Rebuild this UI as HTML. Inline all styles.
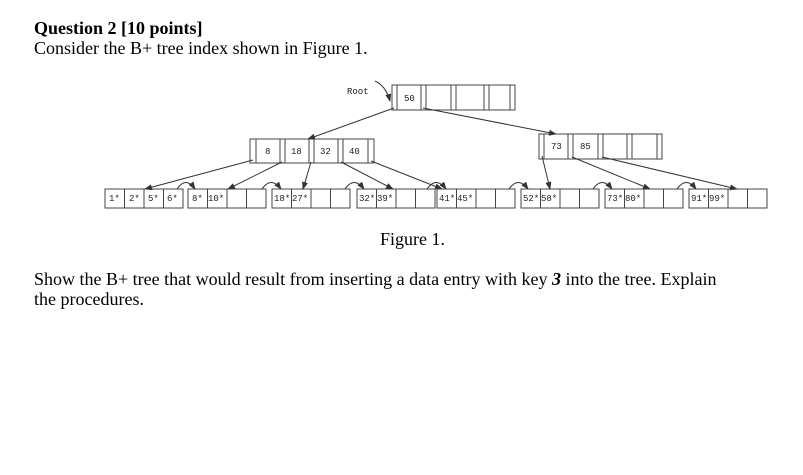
<!DOCTYPE html>
<html><head><meta charset="utf-8"><style>
html,body{margin:0;padding:0;background:#fff;width:803px;height:475px;overflow:hidden}
svg{position:absolute;left:0;top:0}
.t{font-family:"Liberation Serif",serif;font-size:18px;fill:#000}
.m{font-family:"Liberation Mono",monospace;font-size:9px;fill:#222}
</style></head><body>
<svg width="803" height="475" viewBox="0 0 803 475">
<defs><marker id="a" markerWidth="8" markerHeight="6" refX="7" refY="3" orient="auto" markerUnits="userSpaceOnUse"><path d="M0,0 L8,3 L0,6 z" fill="#333"/></marker></defs>
<text class="t" x="34" y="34" font-weight="bold">Question 2 [10 points]</text>
<text class="t" x="34" y="54">Consider the B+ tree index shown in Figure 1.</text>
<text class="t" x="380" y="245">Figure 1.</text>
<text class="t" x="34" y="285">Show the B+ tree that would result from inserting a data entry with key <tspan font-weight="bold" font-style="italic">3</tspan> into the tree. Explain</text>
<text class="t" x="34" y="305">the procedures.</text>

<g stroke="#444" fill="none" stroke-width="1">
<rect x="392" y="85" width="123" height="25"/>
<path d="M397,85V110M421,85V110M426,85V110M451,85V110M456,85V110M484,85V110M489,85V110M510,85V110"/>
<rect x="250" y="139" width="124" height="24"/>
<path d="M256,139V163M280,139V163M285,139V163M309,139V163M314,139V163M338,139V163M343,139V163M368,139V163"/>
<rect x="539" y="134" width="123" height="25"/>
<path d="M544,134V159M568,134V159M573,134V159M598,134V159M603,134V159M627,134V159M632,134V159M657,134V159"/>
<g id="lf"><rect x="105" y="189" width="78" height="19"/><path d="M124.5,189V208M144,189V208M163.5,189V208"/></g>
<use href="#lf" x="83"/><use href="#lf" x="167"/><use href="#lf" x="252"/>
<use href="#lf" x="332"/><use href="#lf" x="416"/><use href="#lf" x="500"/><use href="#lf" x="584"/>
</g>

<g stroke="#333" fill="none" stroke-width="1" marker-end="url(#a)">
<path d="M375,81 Q386,86 390,101"/>
<path d="M394,108 L308,139"/>
<path d="M423,108 L556,134"/>
<path d="M253,160 L145,189"/>
<path d="M282,162 L228,189"/>
<path d="M311,162 L303,189"/>
<path d="M341,162 L393,189"/>
<path d="M371,161 L442,189"/>
<path d="M542,156 L550,189"/>
<path d="M572,157 L650,189"/>
<path d="M602,157 L737,189"/>
</g>
<g stroke="#333" fill="none" stroke-width="1" marker-end="url(#a)">
<path d="M177,189 Q186,176 195,189"/>
<path d="M262,189 Q271,176 281,189"/>
<path d="M345,189 Q354,176 364,189"/>
<path d="M427,189 Q436,176 446,189"/>
<path d="M509,189 Q518,176 528,189"/>
<path d="M593,189 Q602,176 612,189"/>
<path d="M677,189 Q686,176 696,189"/>
</g>

<g class="m">
<text x="347" y="94">Root</text>
<text x="404" y="101">50</text>
<text x="265" y="154">8</text><text x="291" y="154">18</text><text x="320" y="154">32</text><text x="349" y="154">40</text>
<text x="551" y="149">73</text><text x="580" y="149">85</text>
<text x="109" y="201">1*</text><text x="129" y="201">2*</text><text x="148" y="201">5*</text><text x="167" y="201">6*</text>
<text x="192" y="201">8*</text><text x="208" y="201">10*</text>
<text x="274" y="201">18*</text><text x="292" y="201">27*</text>
<text x="359" y="201">32*</text><text x="377" y="201">39*</text>
<text x="439" y="201">41*</text><text x="457" y="201">45*</text>
<text x="523" y="201">52*</text><text x="541" y="201">58*</text>
<text x="607" y="201">73*</text><text x="625" y="201">80*</text>
<text x="691" y="201">91*</text><text x="709" y="201">99*</text>
</g>
</svg>
</body></html>
